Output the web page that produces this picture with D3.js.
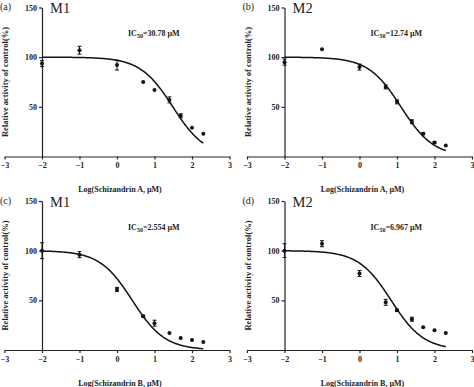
<!DOCTYPE html>
<html>
  <head>
    <meta charset="utf-8">
    <title>Schizandrin inhibition curves</title>
    <script src="https://cdn.jsdelivr.net/npm/d3@7"></script>
    <style>
      body { margin: 0; background: #fff; }
      svg text { font-family: "Liberation Serif", "DejaVu Serif", serif; fill: #222; }
      .tick text { font-weight: bold; font-size: 8px; }
      .axis path, .axis line { stroke: #222; stroke-width: 1.2; }
    </style>
  </head>
  <body>
    <svg width="474" height="387"></svg>
    <script>
      // concentrations in µM (plotted as log10)
      var conc = [0.01, 0.1, 1, 5, 10, 25, 50, 100, 200];

      var meanA_M1 = [93.5, 107, 92, 75, 67, 57, 41, 29, 23];
      var errA_M1  = [3, 4, 5, 0, 0, 3, 2, 0, 0];
      var meanA_M2 = [95, 108, 90, 70, 55, 35, 23, 14, 11];
      var errA_M2  = [3, 0, 3, 2, 2, 2, 1, 1, 0];
      var meanB_M1 = [100, 96, 61, 34, 27, 17, 12, 10, 8];
      var errB_M1  = [8, 3, 2, 1, 3, 0, 0, 0, 0];
      var meanB_M2 = [100, 107, 77, 48, 40, 31, 23, 20, 17];
      var errB_M2  = [7, 3, 3, 3, 1, 2, 0, 0, 0];

      // fitted parameters (IC50 in µM, hill slope)
      var ic50 = [30.78, 12.74, 2.554, 6.967];
      var ic50Labels = ["30.78", "12.74", "2.554", "6.967"];
      var hill = [1, 1, 1, 1];

      var panelTags = ["(a)", "(b)", "(c)", "(d)"];
      var enzymes = ["M1", "M2", "M1", "M2"];
      var xTitles = ["Log(Schizandrin A, \u00b5M)", "Log(Schizandrin A, \u00b5M)",
                     "Log(Schizandrin B, \u00b5M)", "Log(Schizandrin B, \u00b5M)"];
      var xTicks = [-3, -2, -1, 0, 1, 2, 3];
      var yTicks = [50, 100, 150];

      var means = [meanA_M1, meanA_M2, meanB_M1, meanB_M2];
      var errs = [errA_M1, errA_M2, errB_M1, errB_M2];

      var svg = d3.select("svg");
      var offsets = [[0, 0], [242.5, 0], [0, 193.5], [242.5, 193.5]];

      offsets.forEach(function(off, i) {
        var g = svg.append("g").attr("transform", "translate(" + off[0] + "," + off[1] + ")");

        var x = d3.scaleLinear().domain([-3, 3]).range([4.5, 229.5]);
        var y = d3.scaleLinear().domain([0, 150]).range([156.5, 7.5]);

        // x axis
        g.append("g")
            .attr("class", "axis")
            .attr("transform", "translate(0," + y(0) + ")")
            .call(d3.axisBottom(x).tickValues(xTicks).tickSize(3).tickSizeOuter(0)
              .tickFormat(d3.format("d")));

        // y axis at x = -2
        g.append("g")
            .attr("class", "axis")
            .attr("transform", "translate(" + x(-2) + ",0)")
            .call(d3.axisLeft(y).tickValues(yTicks).tickSize(3).tickSizeOuter(0).tickPadding(2));

        // fitted curve
        var xs = d3.range(-2, 2.3001, 0.02);
        var line = d3.line()
            .x(function(d) { return x(d); })
            .y(function(d) { return y(100 / (1 + Math.pow(10, (d - Math.log10(ic50[i])) * hill[i]))); });
        g.append("path")
            .datum(xs)
            .attr("d", line)
            .attr("fill", "none")
            .attr("stroke", "#111")
            .attr("stroke-width", 1.5);

        var pts = conc.map(function(c, k) { return { x: Math.log10(c), m: means[i][k], e: errs[i][k] }; });

        // error bars
        var eb = g.append("g").selectAll("g")
          .data(pts.filter(function(d) { return d.e > 0; }))
          .enter().append("g")
            .attr("stroke", "#111")
            .attr("stroke-width", 1);
        eb.append("line")
            .attr("x1", function(d) { return x(d.x); })
            .attr("x2", function(d) { return x(d.x); })
            .attr("y1", function(d) { return y(d.m - d.e); })
            .attr("y2", function(d) { return y(d.m + d.e); });
        [-1, 1].forEach(function(s) {
          eb.append("line")
              .attr("x1", function(d) { return x(d.x) - 2; })
              .attr("x2", function(d) { return x(d.x) + 2; })
              .attr("y1", function(d) { return y(d.m + s * d.e); })
              .attr("y2", function(d) { return y(d.m + s * d.e); });
        });

        // points
        g.append("g").selectAll("circle")
          .data(pts)
          .enter().append("circle")
            .attr("cx", function(d) { return x(d.x); })
            .attr("cy", function(d) { return y(d.m); })
            .attr("r", 2)
            .attr("fill", "#111");

        // labels
        g.append("text")
            .attr("x", 0).attr("y", 10)
            .attr("font-size", 10)
            .text(panelTags[i]);
        g.append("text")
            .attr("x", 50).attr("y", 13)
            .attr("font-size", 14.5)
            .text(enzymes[i]);

        var ic = g.append("text")
            .attr("x", 128).attr("y", 36)
            .attr("font-size", 8)
            .attr("font-weight", "bold");
        ic.append("tspan").text("IC");
        ic.append("tspan").attr("font-size", 6).attr("dy", 2).text("50");
        ic.append("tspan").attr("dy", -2).text("=" + ic50Labels[i] + " \u00b5M");

        g.append("text")
            .attr("x", 120).attr("y", 192)
            .attr("text-anchor", "middle")
            .attr("font-size", 8)
            .attr("font-weight", "bold")
            .text(xTitles[i]);

        g.append("text")
            .attr("transform", "translate(8,82) rotate(-90)")
            .attr("text-anchor", "middle")
            .attr("font-size", 8.5)
            .attr("font-weight", "bold")
            .text("Relative activity of control(%)");
      });
    </script>
  </body>
</html>
